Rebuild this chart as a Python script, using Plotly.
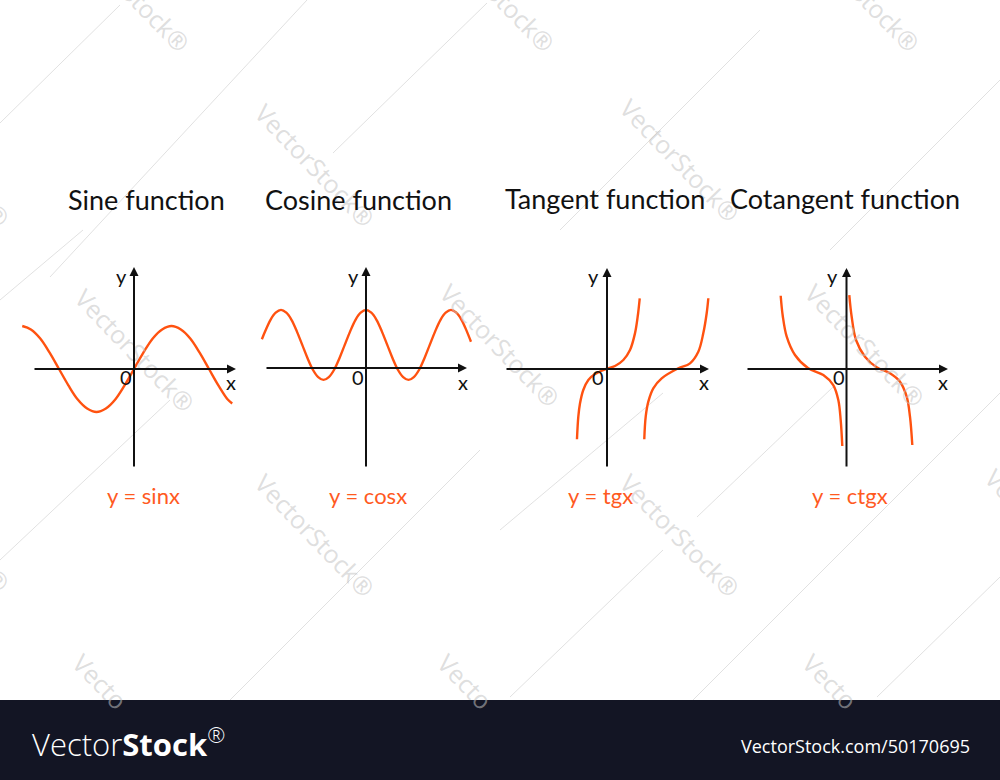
import plotly.graph_objects as go

W_PX, H_PX = 1000, 780

# ---------------- data ----------------
# x in multiples of pi, y in function units
sine_x = [-1.49, -1.375, -1.25, -1.125, -1.0, -0.875, -0.75, -0.625, -0.5, -0.375, -0.25, -0.125,
          0.0, 0.125, 0.25, 0.375, 0.5, 0.625, 0.75, 0.875, 1.0, 1.125, 1.25, 1.31]
sine_y = [1.0, 0.92, 0.71, 0.38, 0.0, -0.38, -0.71, -0.92, -1.0, -0.92, -0.71, -0.38,
          0.0, 0.38, 0.71, 0.92, 1.0, 0.92, 0.71, 0.38, 0.0, -0.38, -0.71, -0.80]

cos_x = [-2.45, -2.375, -2.25, -2.125, -2.0, -1.875, -1.75, -1.625, -1.5, -1.375, -1.25, -1.125,
         -1.0, -0.875, -0.75, -0.625, -0.5, -0.375, -0.25, -0.125, 0.0,
         0.125, 0.25, 0.375, 0.5, 0.625, 0.75, 0.875, 1.0, 1.125, 1.25, 1.375,
         1.5, 1.625, 1.75, 1.875, 2.0, 2.125, 2.25, 2.375, 2.47]
cos_y = [0.82, 1.04, 1.37, 1.58, 1.66, 1.58, 1.37, 1.04, 0.66, 0.28, -0.05, -0.26,
         -0.34, -0.26, -0.05, 0.28, 0.66, 1.04, 1.37, 1.58, 1.66,
         1.58, 1.37, 1.04, 0.66, 0.28, -0.05, -0.26, -0.34, -0.26, -0.05, 0.28,
         0.66, 1.04, 1.37, 1.58, 1.66, 1.58, 1.37, 1.04, 0.75]

tan_x1 = [-0.423, -0.404, -0.380, -0.334, -0.263, -0.169, -0.028, 0.113, 0.230, 0.324, 0.394, 0.432, 0.461]
tan_y1 = [-7.81, -5.30, -3.81, -2.33, -1.22, -0.56, -0.03, 0.33, 1.00, 2.11, 3.96, 5.81, 7.86]
tan_x2 = [0.525, 0.545, 0.582, 0.652, 0.770, 1.004, 1.169, 1.286, 1.356, 1.404, 1.427]
tan_y2 = [-7.81, -5.30, -3.63, -2.15, -1.04, 0.08, 0.63, 1.92, 3.96, 6.19, 7.86]

cot_x1 = [-0.940, -0.911, -0.854, -0.736, -0.546, -0.331, -0.189, -0.117, -0.083, -0.060]
cot_y1 = [8.14, 5.92, 3.59, 1.56, 0.08, -0.67, -1.78, -3.44, -5.67, -8.56]
cot_x2 = [0.040, 0.074, 0.136, 0.264, 0.431, 0.621, 0.764, 0.860, 0.907, 0.940]
cot_y2 = [8.22, 5.81, 3.22, 1.37, 0.19, -0.48, -1.41, -3.08, -5.30, -8.44]

titles = ["Sine function", "Cosine function", "Tangent function", "Cotangent function"]
formulas = ["y = sinx", "y = cosx", "y = tgx", "y = ctgx"]

# ---------------- layout geometry (pixels) ----------------
panels = [
    dict(ox=134, oy=369, sx=75, sy=43, xa=(33, 236), ya=(468, 267), title=(146, 200), form=(143, 496),
         ylab=(121, 276), xlab=(231, 382), olab=(126, 377)),
    dict(ox=366, oy=368, sx=42.5, sy=35, xa=(265, 467), ya=(468, 267), title=(358, 200), form=(368, 496),
         ylab=(353, 276), xlab=(463, 382), olab=(358, 377)),
    dict(ox=607, oy=369, sx=71, sy=9, xa=(505, 709), ya=(468, 268), title=(605, 198), form=(600, 496),
         ylab=(593, 276), xlab=(704, 382), olab=(598, 377)),
    dict(ox=846.5, oy=369, sx=70, sy=9, xa=(746, 948), ya=(468, 268), title=(845, 198), form=(850, 496),
         ylab=(832, 276), xlab=(943, 382), olab=(839, 377)),
]
HW, HH = 125, 115

curve_color = "#FF5210"
text_orange = "#FF5A1F"
ink = "#111111"
title_font = "Lato, Roboto, sans-serif"

fig = go.Figure()

series = [
    [(sine_x, sine_y)],
    [(cos_x, cos_y)],
    [(tan_x1, tan_y1), (tan_x2, tan_y2)],
    [(cot_x1, cot_y1), (cot_x2, cot_y2)],
]

def px2paper(px, py):
    return px / W_PX, 1 - py / H_PX

annotations = []
shapes = []

# faint diagonal watermark lines (pixel endpoints)
wm_lines = [((0, 123), (120, 5)), ((50, 277), (307, 0)), ((333, 153), (487, 3)), ((0, 300), (83, 230)),
            ((500, 530), (663, 393)), ((510, 697), (663, 550)), ((697, 517), (833, 387)),
            ((693, 700), (1000, 393)), ((877, 697), (1000, 577)), ((230, 700), (480, 450)),
            ((0, 560), (170, 400)), ((560, 230), (760, 30)), ((830, 250), (1000, 80))]
for (a, b) in wm_lines:
    x0, y0 = px2paper(*a)
    x1, y1 = px2paper(*b)
    shapes.append(dict(type="line", xref="paper", yref="paper", x0=x0, y0=y0, x1=x1, y1=y1,
                       line=dict(color="rgba(205,205,205,0.6)", width=1), layer="below"))

# watermarks
wm_font = dict(family="Open Sans, sans-serif", size=25, color="rgba(195,195,195,0.55)")
wm_pos = [(130, -10), (495, -10), (860, -10),
          (-50, 165), (315, 165), (680, 160),
          (135, 350), (500, 345), (865, 345),
          (-50, 530), (315, 535), (680, 535), (1045, 530)]
for (wx, wy) in wm_pos:
    x, y = px2paper(wx, wy)
    annotations.append(dict(x=x, y=y, xref="paper", yref="paper", text="VectorStock®", showarrow=False,
                            textangle=46, font=wm_font, xanchor="center", yanchor="middle"))
for wx in (100, 465, 830):
    x, y = px2paper(wx, 681)
    annotations.append(dict(x=x, y=y, xref="paper", yref="paper", text="Vecto", showarrow=False,
                            textangle=46, font=wm_font, xanchor="center", yanchor="middle"))

for i, (p, ser) in enumerate(zip(panels, series)):
    n = "" if i == 0 else str(i + 1)
    xr = f"x{n}"
    yr = f"y{n}"
    for xs, ys in ser:
        fig.add_trace(go.Scatter(x=xs, y=ys, mode="lines", xaxis=xr, yaxis=yr,
                                 line=dict(color=curve_color, width=2.4, shape="spline", smoothing=1.0),
                                 hoverinfo="skip", showlegend=False))
    dx0 = (p["ox"] - HW) / W_PX
    dx1 = (p["ox"] + HW) / W_PX
    dy0 = 1 - (p["oy"] + HH) / H_PX
    dy1 = 1 - (p["oy"] - HH) / H_PX
    fig.layout[f"xaxis{n}"] = dict(domain=[dx0, dx1], anchor=yr,
                                   range=[-HW / p["sx"], HW / p["sx"]],
                                   visible=False, fixedrange=True)
    fig.layout[f"yaxis{n}"] = dict(domain=[dy0, dy1], anchor=xr,
                                   range=[-HH / p["sy"], HH / p["sy"]],
                                   visible=False, fixedrange=True)
    xl = (p["xa"][0] - p["ox"]) / p["sx"]
    xh = (p["xa"][1] - p["ox"]) / p["sx"]
    yb = (p["oy"] - p["ya"][0]) / p["sy"]
    yt = (p["oy"] - p["ya"][1]) / p["sy"]
    annotations.append(dict(x=xh, y=0, ax=xl, ay=0, xref=xr, yref=yr, axref=xr, ayref=yr,
                            text="", showarrow=True, arrowhead=2, arrowsize=0.9, arrowwidth=2,
                            arrowcolor=ink, standoff=0))
    annotations.append(dict(x=0, y=yt, ax=0, ay=yb, xref=xr, yref=yr, axref=xr, ayref=yr,
                            text="", showarrow=True, arrowhead=2, arrowsize=0.9, arrowwidth=2,
                            arrowcolor=ink, standoff=0))
    tx, ty = px2paper(*p["title"])
    annotations.append(dict(x=tx, y=ty, xref="paper", yref="paper", text=titles[i], showarrow=False,
                            font=dict(family=title_font, size=27, color=ink),
                            xanchor="center", yanchor="middle"))
    fx, fy = px2paper(*p["form"])
    annotations.append(dict(x=fx, y=fy, xref="paper", yref="paper", text=formulas[i], showarrow=False,
                            font=dict(family=title_font, size=22, color=text_orange),
                            xanchor="center", yanchor="middle"))
    for key, lab in (("ylab", "y"), ("xlab", "x"), ("olab", "0")):
        lx, ly = px2paper(*p[key])
        annotations.append(dict(x=lx, y=ly, xref="paper", yref="paper", text=lab, showarrow=False,
                                font=dict(family=title_font, size=20, color=ink),
                                xanchor="center", yanchor="middle"))

# banner
shapes.append(dict(type="rect", xref="paper", yref="paper", x0=0, x1=1, y0=0, y1=1 - 700 / H_PX,
                   fillcolor="#131524", line=dict(width=0), layer="above"))
annotations.append(dict(x=30 / W_PX, y=1 - 742 / H_PX, xref="paper", yref="paper",
                        text="Vector<b>Stock</b><sup>®</sup>", showarrow=False, xanchor="left", yanchor="middle",
                        font=dict(family="Open Sans, Lato, sans-serif", size=31, color="white", weight=300)))
annotations.append(dict(x=972 / W_PX, y=1 - 746 / H_PX, xref="paper", yref="paper",
                        text="VectorStock.com/50170695", showarrow=False, xanchor="right", yanchor="middle",
                        font=dict(family="Open Sans, Lato, sans-serif", size=18, color="white")))

fig.update_layout(width=W_PX, height=H_PX, margin=dict(l=0, r=0, t=0, b=0),
                  paper_bgcolor="white", plot_bgcolor="rgba(0,0,0,0)",
                  annotations=annotations, shapes=shapes, showlegend=False)

fig.write_html("out.html", config={"displayModeBar": False},
               post_script="document.body.style.margin='0';document.body.style.padding='0';")
